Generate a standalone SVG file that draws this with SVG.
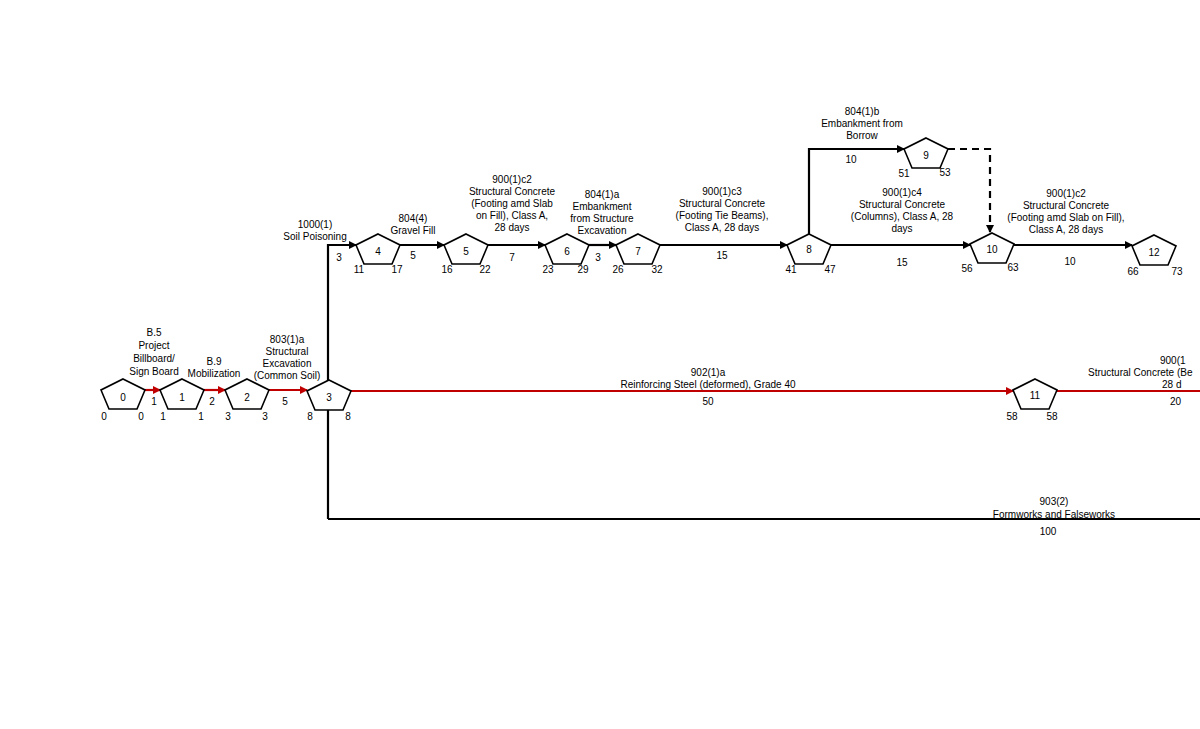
<svg xmlns="http://www.w3.org/2000/svg" width="1200" height="729" viewBox="0 0 1200 729">
<style>
.n{fill:#fff;stroke:#000;stroke-width:1.6}
text{font-family:"Liberation Sans",Arial,sans-serif;font-size:10px;fill:#000}
.c{text-anchor:middle}
.k{fill:none;stroke:#000;stroke-width:2.2}
.r{fill:none;stroke:#c00000;stroke-width:2.2}
</style>
<defs>
<path id="p" d="M0,0 L22,11 L14,30 L-14,30 L-22,11 Z"/>
<marker id="ak" markerWidth="8" markerHeight="8" refX="7" refY="4" orient="auto" markerUnits="userSpaceOnUse"><path d="M0,0 L8,4 L0,8 Z" fill="#000"/></marker>
<marker id="ar" markerWidth="8" markerHeight="8" refX="7" refY="4" orient="auto" markerUnits="userSpaceOnUse"><path d="M0,0 L8,4 L0,8 Z" fill="#c00000"/></marker>
</defs>
<rect width="1200" height="729" fill="#fff"/>
<g id="connectors">
<path class="r" d="M145,390 H160" marker-end="url(#ar)"/>
<path class="r" d="M204,390 H225" marker-end="url(#ar)"/>
<path class="r" d="M269,390 H307" marker-end="url(#ar)"/>
<path class="r" d="M351,391 H1013" marker-end="url(#ar)"/>
<path class="r" d="M1057,391 H1200"/>
<path class="k" d="M328,519 V245 H356" marker-end="url(#ak)"/>
<path class="k" d="M328,519 H1200"/>
<path class="k" d="M400,245 H444" marker-end="url(#ak)"/>
<path class="k" d="M488,245 H545" marker-end="url(#ak)"/>
<path class="k" d="M589,245 H616" marker-end="url(#ak)"/>
<path class="k" d="M660,245 H787" marker-end="url(#ak)"/>
<path class="k" d="M809,234 V149 H904" marker-end="url(#ak)"/>
<path class="k" d="M948,149 H990 V232" stroke-dasharray="7,5" marker-end="url(#ak)"/>
<path class="k" d="M831,245 H970" marker-end="url(#ak)"/>
<path class="k" d="M1014,245 H1132" marker-end="url(#ak)"/>
</g>
<g id="n0"><use href="#p" class="n" x="123" y="379"/><text class="c" x="123" y="401">0</text><text class="c" x="104" y="420">0</text><text class="c" x="141" y="420">0</text></g>
<g id="n1"><use href="#p" class="n" x="182" y="379"/><text class="c" x="182" y="401">1</text><text class="c" x="163" y="420">1</text><text class="c" x="201" y="420">1</text></g>
<g id="n2"><use href="#p" class="n" x="247" y="379"/><text class="c" x="247" y="401">2</text><text class="c" x="228" y="420">3</text><text class="c" x="265" y="420">3</text></g>
<g id="n3"><use href="#p" class="n" x="329" y="380"/><text class="c" x="329" y="401">3</text><text class="c" x="310" y="420">8</text><text class="c" x="348" y="420">8</text></g>
<g id="n4"><use href="#p" class="n" x="378" y="234"/><text class="c" x="378" y="255">4</text><text class="c" x="359" y="273">11</text><text class="c" x="397" y="273">17</text></g>
<g id="n5"><use href="#p" class="n" x="466" y="234"/><text class="c" x="466" y="255">5</text><text class="c" x="447" y="273">16</text><text class="c" x="485" y="273">22</text></g>
<g id="n6"><use href="#p" class="n" x="567" y="234"/><text class="c" x="567" y="255">6</text><text class="c" x="548" y="273">23</text><text class="c" x="583" y="273">29</text></g>
<g id="n7"><use href="#p" class="n" x="638" y="234"/><text class="c" x="638" y="255">7</text><text class="c" x="618" y="273">26</text><text class="c" x="657" y="273">32</text></g>
<g id="n8"><use href="#p" class="n" x="809" y="234"/><text class="c" x="809" y="253">8</text><text class="c" x="791" y="273">41</text><text class="c" x="830" y="273">47</text></g>
<g id="n9"><use href="#p" class="n" x="926" y="138"/><text class="c" x="926" y="159">9</text><text class="c" x="904" y="177">51</text><text class="c" x="945" y="176">53</text></g>
<g id="n10"><use href="#p" class="n" x="992" y="233"/><text class="c" x="992" y="253">10</text><text class="c" x="967" y="272">56</text><text class="c" x="1013" y="271">63</text></g>
<g id="n11"><use href="#p" class="n" x="1035" y="379"/><text class="c" x="1035" y="399">11</text><text class="c" x="1012" y="420">58</text><text class="c" x="1052" y="420">58</text></g>
<g id="n12"><use href="#p" class="n" x="1154" y="235"/><text class="c" x="1154" y="256">12</text><text class="c" x="1133" y="275">66</text><text class="c" x="1177" y="275">73</text></g>
<g id="labels">
<text class="c" x="154" y="336">B.5</text><text class="c" x="154" y="349">Project</text><text class="c" x="154" y="362">Billboard/</text><text class="c" x="154" y="375">Sign Board</text>
<text class="c" x="154" y="405">1</text>
<text class="c" x="214" y="365">B.9</text><text class="c" x="214" y="377">Mobilization</text>
<text class="c" x="212" y="405">2</text>
<text class="c" x="287" y="343">803(1)a</text><text class="c" x="287" y="355">Structural</text><text class="c" x="287" y="367">Excavation</text><text class="c" x="287" y="379">(Common Soil)</text>
<text class="c" x="285" y="405">5</text>
<text class="c" x="315" y="228">1000(1)</text><text class="c" x="315" y="240">Soil Poisoning</text>
<text class="c" x="339" y="261">3</text>
<text class="c" x="413" y="222">804(4)</text><text class="c" x="413" y="234">Gravel Fill</text>
<text class="c" x="413" y="259">5</text>
<text class="c" x="512" y="183">900(1)c2</text><text class="c" x="512" y="195">Structural Concrete</text><text class="c" x="512" y="207">(Footing amd Slab</text><text class="c" x="512" y="219">on Fill), Class A,</text><text class="c" x="512" y="231">28 days</text>
<text class="c" x="512" y="261">7</text>
<text class="c" x="602" y="198">804(1)a</text><text class="c" x="602" y="210">Embankment</text><text class="c" x="602" y="222">from Structure</text><text class="c" x="602" y="234">Excavation</text>
<text class="c" x="598" y="261">3</text>
<text class="c" x="722" y="195">900(1)c3</text><text class="c" x="722" y="207">Structural Concrete</text><text class="c" x="722" y="219">(Footing Tie Beams),</text><text class="c" x="722" y="231">Class A, 28 days</text>
<text class="c" x="722" y="259">15</text>
<text class="c" x="862" y="115">804(1)b</text><text class="c" x="862" y="127">Embankment from</text><text class="c" x="862" y="139">Borrow</text>
<text class="c" x="851" y="163">10</text>
<text class="c" x="902" y="196">900(1)c4</text><text class="c" x="902" y="208">Structural Concrete</text><text class="c" x="902" y="220">(Columns), Class A, 28</text><text class="c" x="902" y="232">days</text>
<text class="c" x="902" y="266">15</text>
<text class="c" x="1066" y="197">900(1)c2</text><text class="c" x="1066" y="209">Structural Concrete</text><text class="c" x="1066" y="221">(Footing amd Slab on Fill),</text><text class="c" x="1066" y="233">Class A, 28 days</text>
<text class="c" x="1070" y="265">10</text>
<text class="c" x="708" y="376">902(1)a</text>
<text class="c" x="708" y="388">Reinforcing Steel (deformed), Grade 40</text>
<text class="c" x="708" y="405">50</text>
<text x="1160" y="364">900(1</text><text x="1088" y="376">Structural Concrete (Be</text><text x="1162" y="388">28 d</text><text x="1170" y="405">20</text>
<text class="c" x="1054" y="505">903(2)</text><text class="c" x="1054" y="518">Formworks and Falseworks</text>
<text class="c" x="1048" y="535">100</text>
</g>
</svg>
